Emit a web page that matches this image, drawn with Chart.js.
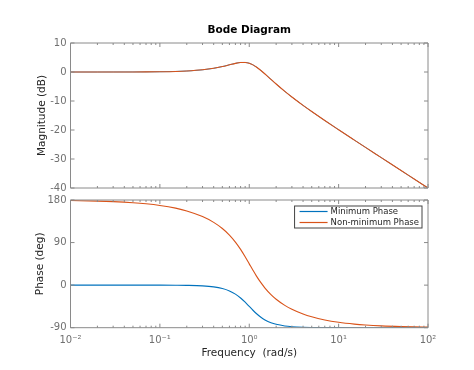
<!DOCTYPE html>
<html>
<head>
<meta charset="utf-8">
<script src="https://cdn.jsdelivr.net/npm/chart.js@4.4.0/dist/chart.umd.min.js"></script>
<style>
  body { margin: 0; background: #fff; }
  #wrap { position: relative; width: 474px; height: 370px; }
  canvas { position: absolute; left: 0; }
  #mag { top: 0; }
  #phase { top: 190px; }
</style>
</head>
<body>
<div id="wrap">
  <canvas id="mag" width="474" height="198"></canvas>
  <canvas id="phase" width="474" height="180"></canvas>
</div>
<script>
// values (rad/s, dB, deg)
const freq = [0.01, 0.02, 0.03, 0.05, 0.07, 0.1, 0.15, 0.2, 0.3, 0.4, 0.5, 0.6, 0.7, 0.8, 0.9, 1,
    1.1, 1.2, 1.35, 1.5, 1.75, 2, 2.5, 3, 4, 5, 7, 10, 15, 20, 30, 50, 70, 100];
const magDb = [0, 0, 0.01, 0.02, 0.04, 0.09, 0.19, 0.34, 0.75, 1.27, 1.87, 2.47, 2.98, 3.29, 3.3, 3.01,
    2.46, 1.74, 0.53, -0.69, -2.55, -4.15, -6.69, -8.63, -11.52, -13.64, -16.73, -19.91, -23.48, -26.0, -29.53, -33.98, -36.9, -40.0];
const phaseMin = [0, 0, 0, 0, -0.02, -0.06, -0.19, -0.46, -1.55, -3.66, -7.13, -12.19, -18.94, -27.11, -36.09, -45.0,
    -53.08, -59.95, -67.89, -73.5, -79.43, -82.87, -86.34, -87.87, -89.11, -89.54, -89.83, -89.94, -89.98, -89.99, -90, -90, -90, -90];
const phaseNonMin = [178.85, 177.71, 176.56, 174.28, 171.99, 168.5, 162.75, 156.9, 145.05, 132.74, 119.74, 105.88, 91.08, 75.57, 59.93, 45.0,
    31.47, 19.66, 5.17, -6.12, -19.95, -29.74, -42.74, -51.0, -61.04, -66.92, -73.57, -78.52, -82.35, -84.28, -86.18, -87.71, -88.36, -88.85];

const freqTicks = [0.01, 0.1, 1, 10, 100];
const freqTickLabels = ['10⁻²', '10⁻¹', '10⁰', '10¹', '10²'];
const magTicks = [-40, -30, -20, -10, 0, 10];
const phaseTicks = [-90, 0, 90, 180];
const seriesNames = ['Minimum Phase', 'Non-minimum Phase'];
const seriesColors = ['#0072bd', '#d95319'];

const font = 'DejaVu Sans';
const tickColor = '#707070';
const frameColor = '#8a8a8a';

function pts(ys) {
    return freq.map((f, i) => ({ x: f, y: ys[i] }));
}

function series(i, ys, width) {
    return {
        label: seriesNames[i],
        data: pts(ys),
        borderColor: seriesColors[i],
        borderWidth: width,
        pointRadius: 0,
        cubicInterpolationMode: 'monotone',
        order: i === 0 ? 1 : 0  // orange drawn over blue
    };
}

// box round the plot area with inward ticks
const framePlugin = {
    id: 'frame',
    afterDatasetsDraw(chart) {
        const { ctx, chartArea: a, scales } = chart;
        const x = scales.x, y = scales.y;
        ctx.save();
        ctx.strokeStyle = frameColor;
        ctx.lineWidth = 1;
        ctx.beginPath();
        ctx.rect(a.left, a.top, a.right - a.left, a.bottom - a.top);
        const last = freqTicks[freqTicks.length - 1];
        freqTicks.forEach(d => {
            for (let k = 1; k <= 9; k++) {
                const v = d * k;
                if (v > last * 1.0001) break;
                const px = x.getPixelForValue(v);
                const len = k === 1 ? 4 : 2;
                ctx.moveTo(px, a.bottom); ctx.lineTo(px, a.bottom - len);
                ctx.moveTo(px, a.top); ctx.lineTo(px, a.top + len);
            }
        });
        y.ticks.forEach(t => {
            const py = y.getPixelForValue(t.value);
            ctx.moveTo(a.left, py); ctx.lineTo(a.left + 4, py);
            ctx.moveTo(a.right, py); ctx.lineTo(a.right - 4, py);
        });
        ctx.stroke();
        ctx.restore();
    }
};

// boxed legend in the top right corner of the phase plot
const legendPlugin = {
    id: 'boxLegend',
    afterDraw(chart) {
        const { ctx, chartArea: a } = chart;
        ctx.save();
        ctx.font = '8.5px "DejaVu Sans"';
        const textW = Math.max(...chart.data.datasets.map(ds => ctx.measureText(ds.label).width));
        const w = 36 + textW + 3, h = 22;
        const right = a.right - 6, top = a.top + 6;
        const left = right - w;
        ctx.fillStyle = '#fff';
        ctx.fillRect(left, top, w, h);
        ctx.strokeStyle = '#444';
        ctx.lineWidth = 1;
        ctx.strokeRect(left, top, w, h);
        ctx.textBaseline = 'middle';
        chart.data.datasets.forEach((ds, i) => {
            const cy = top + 5.5 + i * 11;
            ctx.strokeStyle = ds.borderColor;
            ctx.lineWidth = 1.2;
            ctx.beginPath();
            ctx.moveTo(left + 5, cy);
            ctx.lineTo(left + 33, cy);
            ctx.stroke();
            ctx.fillStyle = '#262626';
            ctx.fillText(ds.label, left + 36, cy);
        });
        ctx.restore();
    }
};

function xScale(showLabels) {
    return {
        type: 'logarithmic',
        min: freqTicks[0],
        max: freqTicks[freqTicks.length - 1],
        grid: { display: false, drawTicks: false },
        border: { display: false },
        afterBuildTicks: s => { s.ticks = freqTicks.map(v => ({ value: v })); },
        ticks: {
            display: showLabels,
            color: tickColor,
            padding: 7,
            maxRotation: 0,
            autoSkip: false,
            font: { family: font, size: 10 },
            callback: (v, i) => freqTickLabels[i]
        },
        title: {
            display: showLabels,
            text: 'Frequency  (rad/s)',
            color: '#262626',
            font: { family: font, size: 10.5 },
            padding: { top: 0, bottom: 10.4 }
        },
        afterFit: s => { s.height = showLabels ? 42.3 : 0; }
    };
}

function yScale(ticks, label, titlePad) {
    return {
        min: ticks[0],
        max: ticks[ticks.length - 1],
        grid: { display: false, drawTicks: false },
        border: { display: false },
        afterBuildTicks: s => { s.ticks = ticks.map(v => ({ value: v })); },
        ticks: { color: tickColor, padding: 4, font: { family: font, size: 10 } },
        title: {
            display: true,
            text: label,
            color: '#262626',
            font: { family: font, size: 10.5 },
            padding: { top: titlePad, bottom: 0 }
        },
        afterFit: s => { s.width = 70.5; }
    };
}

const common = {
    responsive: false,
    animation: false,
    devicePixelRatio: 1,
    events: []
};

// both responses share the same magnitude, so the orange one hides the blue
new Chart(document.getElementById('mag').getContext('2d'), {
    type: 'line',
    data: { datasets: [series(0, magDb, 0.8), series(1, magDb, 1.1)] },
    options: {
        ...common,
        layout: { padding: { left: 0, right: 46, top: 0, bottom: 9 } },
        scales: { x: xScale(false), y: yScale(magTicks, 'Magnitude (dB)', 35.7) },
        plugins: {
            legend: { display: false },
            tooltip: { enabled: false },
            title: {
                display: true,
                text: 'Bode Diagram',
                fullSize: false,
                color: '#000',
                font: { family: font, size: 10.5, weight: 'bold' },
                padding: { top: 23.5, bottom: 6.9 }
            }
        }
    },
    plugins: [framePlugin]
});

new Chart(document.getElementById('phase').getContext('2d'), {
    type: 'line',
    data: { datasets: [series(0, phaseMin, 1.1), series(1, phaseNonMin, 1.1)] },
    options: {
        ...common,
        layout: { padding: { left: 0, right: 46, top: 9, bottom: 0 } },
        scales: { x: xScale(true), y: yScale(phaseTicks, 'Phase (deg)', 33.5) },
        plugins: {
            legend: { display: false },
            tooltip: { enabled: false }
        }
    },
    plugins: [framePlugin, legendPlugin]
});
</script>
</body>
</html>
